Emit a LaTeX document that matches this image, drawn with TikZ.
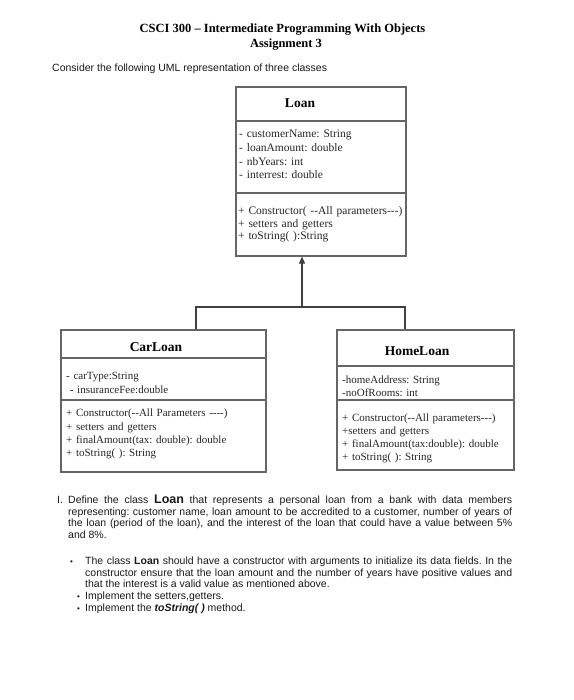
\documentclass[tikz,border=0pt]{standalone}
\usepackage{fontspec}
\setmainfont{Liberation Serif}
\newfontfamily\arialfam{Liberation Sans}
\usetikzlibrary{arrows.meta}
\definecolor{boxline}{HTML}{666666}
\definecolor{boxtext}{HTML}{262626}
\definecolor{bodytext}{HTML}{1A1A1A}
\lineskiplimit=-20pt
\hyphenpenalty=10000
\frenchspacing
\newcommand{\hy}{-{}}
\begin{document}
\frenchspacing
\begin{tikzpicture}[x=1pt,y=-1pt,
  classbox/.style={draw=boxline, line width=1.1pt, inner sep=0pt},
  sepline/.style={draw=boxline, line width=1.1pt},
  conn/.style={draw=black!75, line width=1.1pt},
  cname/.style={font=\fontsize{13.5}{16}\selectfont\bfseries, text=black, inner sep=0pt, anchor=base},
  loantxt/.style={font=\fontsize{11.5}{#1}\selectfont, text=boxtext, text width=165pt, align=left, inner sep=0pt, anchor=north west},
  subtxt/.style={font=\fontsize{11}{#1}\selectfont, text=boxtext, text width=200pt, align=left, inner sep=0pt, anchor=north west},
  titletxt/.style={font=\fontsize{12.5}{15}\selectfont\bfseries, text=black, inner sep=0pt, anchor=base},
  bodyline/.style={font=\arialfam\fontsize{10.5}{11.5}\selectfont, text=bodytext, inner sep=0pt, anchor=base west},
  bodypar/.style={font=\arialfam\fontsize{10.5}{#1}\selectfont, text=bodytext, align=justify, inner sep=0pt, anchor=north west},
  bulletmark/.style={font=\arialfam\fontsize{8}{10}\selectfont, text=bodytext, inner sep=0pt, anchor=base west}
]
\useasboundingbox (0,0) rectangle (573,700);
\fill[white] (0,0) rectangle (573,700);

% titles
\node[titletxt] (title) at (282.5,33) {CSCI 300 -- Intermediate Programming With Objects};
\node[titletxt] (assign) at (286,48) {Assignment 3};
\node[bodyline] (consider) at (52,72) {Consider the following UML representation of three classes};

% Loan class
\node[classbox, minimum width=170pt, minimum height=169pt] (loan) at (321,171.5) {};
\draw[sepline] (loan.west |- 0,121) -- (loan.east |- 0,121);
\draw[sepline] (loan.west |- 0,193) -- (loan.east |- 0,193);
\node[cname] (loanname) at (300,107.5) {Loan};
\node[loantxt=13.7] (loanattr) at (239,128) {\strut- customerName: String\\- loanAmount: double\\- nbYears: int\\- interrest: double};
\node[loantxt=12.5] (loanmeth) at (238,205.9) {\strut+ Constructor( \hy\hy All parameters\hy\hy\hy)\\+ setters and getters\\+ toString( ):String};

% CarLoan class
\node[classbox, minimum width=205pt, minimum height=142pt] (carloan) at (163.5,401) {};
\draw[sepline] (carloan.west |- 0,358) -- (carloan.east |- 0,358);
\draw[sepline] (carloan.west |- 0,400) -- (carloan.east |- 0,400);
\node[cname] (carname) at (156,351.5) {CarLoan};
\node[subtxt=13.3] (carattr) at (66,370.2) {\strut- carType:String\\\ - insuranceFee:double};
\node[subtxt=13.3] (carmeth) at (66,407.2) {\strut+ Constructor(\hy\hy All Parameters \hy\hy\hy\hy)\\+ setters and getters\\+ finalAmount(tax: double): double\\+ toString( ): String};

% HomeLoan class
\node[classbox, minimum width=177pt, minimum height=140pt] (homeloan) at (425.5,400) {};
\draw[sepline] (homeloan.west |- 0,366) -- (homeloan.east |- 0,366);
\draw[sepline] (homeloan.west |- 0,400) -- (homeloan.east |- 0,400);
\node[cname] (homename) at (417,355.5) {HomeLoan};
\node[subtxt=13] (homeattr) at (342,374.4) {\strut-homeAddress: String\\-noOfRooms: int};
\node[subtxt=12.8] (homemeth) at (342,412.5) {\strut+ Constructor(\hy\hy All parameters\hy\hy\hy)\\+setters and getters\\+ finalAmount(tax:double): double\\+ toString( ): String};

% inheritance connector
\coordinate (jmid) at (302,307);
\coordinate (jleft) at (196,307);
\coordinate (jright) at (405,307);
\draw[conn] (jleft |- carloan.north) -- (jleft) -- (jright) -- (jright |- homeloan.north);
\draw[conn, -{Triangle[width=6pt,length=7pt]}] (jmid) -- (jmid |- loan.south);

% question text
\node[bodyline] (qnum) at (57,503.7) {I.};
\node[bodypar=11.4, text width=444pt] (defpar) at (68,493.7) {\rule{0pt}{10pt}Define the class {\fontsize{12.5}{11.4}\selectfont\bfseries Loan} that represents a personal loan from a bank with data members\linebreak representing: customer name, loan amount to be accredited to a customer, number of years of\linebreak the loan (period of the loan), and the interest of the loan that could have a value between 5\%\linebreak and 8\%.};

\node[bulletmark] (b1mark) at (70,564.7) {•};
\node[bodypar=11.5, text width=427pt] (b1text) at (85,556.65) {\strut The class \textbf{Loan} should have a constructor with arguments to initialize its data fields. In the\linebreak constructor ensure that the loan amount and the number of years have positive values and\linebreak that the interest is a valid value as mentioned above.};
\node[bulletmark] (b2mark) at (77,599.7) {•};
\node[bodyline] (b2text) at (85,599.7) {Implement the setters,getters.};
\node[bulletmark] (b3mark) at (77,611.7) {•};
\node[bodyline] (b3text) at (85,611.7) {Implement the \textbf{\textit{toString( )}} method.};
\end{tikzpicture}
\end{document}
